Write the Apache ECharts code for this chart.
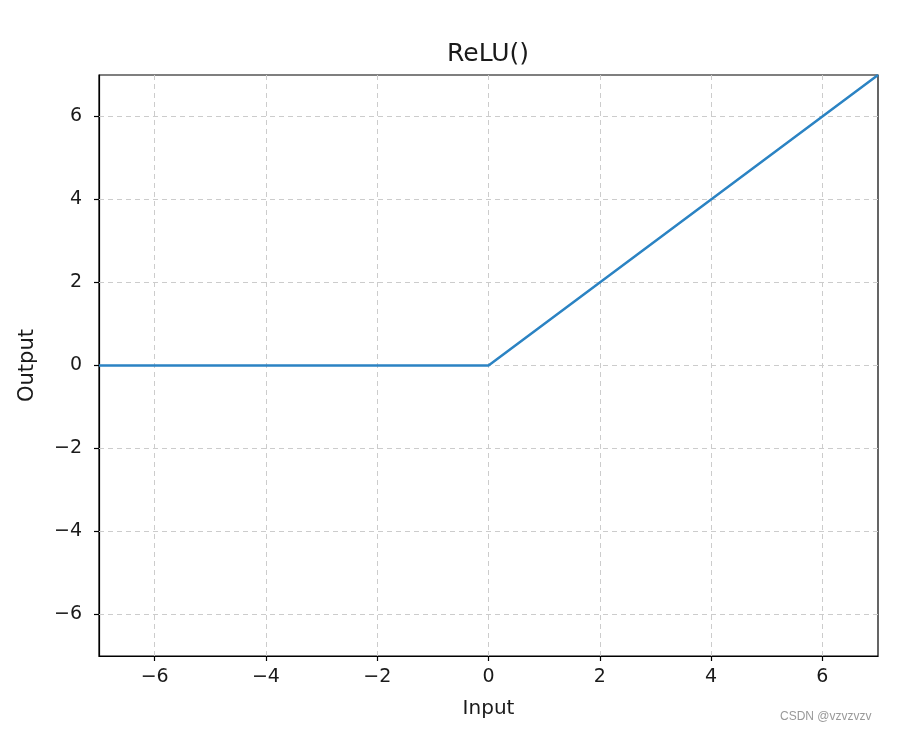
<!DOCTYPE html>
<html>
<head>
<meta charset="utf-8">
<script src="https://cdn.jsdelivr.net/npm/echarts@6/dist/echarts.min.js"></script>
<style>html,body{margin:0;padding:0;background:#fff}#c{width:897px;height:732px}</style>
</head>
<body>
<div id="c"></div>
<script>
const inputX = [-7, 0, 7];
const outputY = [0, 0, 7];
const xTicks = [-6, -4, -2, 0, 2, 4, 6];
const yTicks = [-6, -4, -2, 0, 2, 4, 6];
const axisRange = [-7, 7];

const fmt = v => (v < 0 ? '\u2212' + Math.abs(v) : String(v));
const FONT = 'DejaVu Sans';

const chart = echarts.init(document.getElementById('c'), null, {renderer: 'canvas'});
const gridLines = [];
xTicks.forEach(v => gridLines.push({xAxis: v}));
yTicks.forEach(v => gridLines.push({yAxis: v}));

chart.setOption({
  animation: false,
  backgroundColor: '#ffffff',
  title: {
    text: 'ReLU()', left: 442, top: 37,
    textStyle: {fontFamily: FONT, fontSize: 25, fontWeight: 'normal', color: '#1a1a1a'}
  },
  graphic: [{
    type: 'text', left: 780, top: 711,
    style: {text: 'CSDN @vzvzvzv', fill: '#999999', font: '12px "Liberation Sans"'}
  }],
  grid: {left: 99, right: 19, top: 75, bottom: 76, show: true, borderColor: '#000', borderWidth: 1.2, backgroundColor: 'transparent'},
  xAxis: {
    type: 'value', min: axisRange[0], max: axisRange[1],
    name: 'Input', nameLocation: 'middle', nameGap: 43,
    nameTextStyle: {fontFamily: FONT, fontSize: 20, color: '#1a1a1a'},
    axisLine: {show: true, onZero: false, lineStyle: {color: '#000', width: 1.2}},
    axisTick: {show: true, inside: false, length: 5, customValues: xTicks, lineStyle: {color: '#000', width: 1.2}},
    axisLabel: {customValues: xTicks, margin: 12, formatter: fmt, fontFamily: FONT, fontSize: 19, color: '#1a1a1a'},
    splitLine: {show: false}
  },
  yAxis: {
    type: 'value', min: axisRange[0], max: axisRange[1],
    name: 'Output', nameLocation: 'middle', nameGap: 61, nameRotate: 90,
    nameTextStyle: {fontFamily: FONT, fontSize: 21, color: '#1a1a1a'},
    axisLine: {show: true, onZero: false, lineStyle: {color: '#000', width: 1.2}},
    axisTick: {show: true, inside: false, length: 5, customValues: yTicks, lineStyle: {color: '#000', width: 1.2}},
    axisLabel: {customValues: yTicks, margin: 17, formatter: fmt, fontFamily: FONT, fontSize: 19, color: '#1a1a1a'},
    splitLine: {show: false}
  },
  series: [{
    type: 'line',
    data: inputX.map((x, i) => [x, outputY[i]]),
    showSymbol: false,
    lineStyle: {color: '#2b83c3', width: 2.5},
    clip: true,
    z: 3,
    markLine: {
      silent: true, symbol: 'none', label: {show: false},
      lineStyle: {color: '#cccccc', type: [5, 4], width: 1},
      data: gridLines, z: 1
    }
  }]
});
</script>
</body>
</html>
